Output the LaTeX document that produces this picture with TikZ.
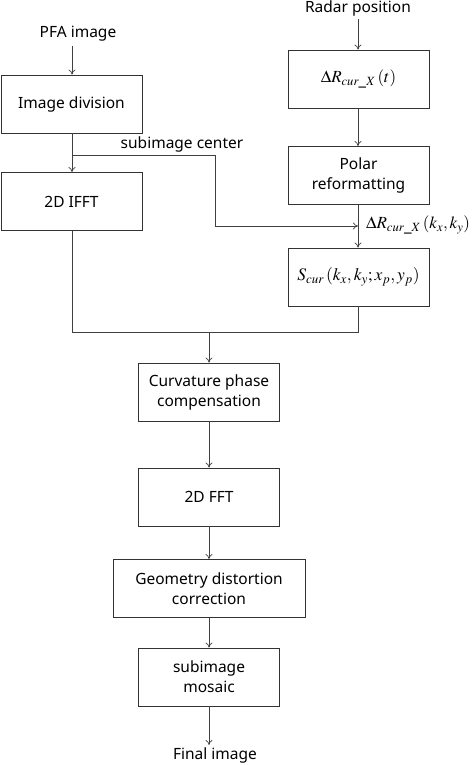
\documentclass[tikz,border=0pt]{standalone}
\usepackage{mathptmx}
\usepackage{fontspec}
\setmainfont{Noto Sans}
\usetikzlibrary{arrows.meta}
\tikzset{
  box/.style={draw=black!80, line width=0.9pt, minimum width=141pt, minimum height=58pt, inner sep=0pt, align=center, font=\fontsize{15.5}{20}\selectfont},
  lbl/.style={inner sep=0pt, font=\fontsize{15.5}{20}\selectfont},
  mth/.style={inner sep=0pt, font=\fontsize{17}{20}\selectfont},
  arr/.style={draw=black!75, line width=0.7pt, -{To[length=5pt,width=7pt]}},
  ln/.style={draw=black!75, line width=0.7pt}
}
\begin{document}
\begin{tikzpicture}[x=1pt,y=-1pt]
\useasboundingbox (0,0) rectangle (474,765);
% left column
\node[lbl] (pfa) at (78,34) {PFA image};
\coordinate (pfaout) at (72,46);
\node[box] (div) at (71.5,104) {Image division};
\node[box] (ifft) at (71.5,201.5) {2D IFFT};
\node[lbl] (sub) at (182,144) {subimage center};
% right column
\node[lbl] (radar) at (358,8) {Radar position};
\coordinate (radarout) at (358,19);
\node[box, font=\fontsize{17}{20}\selectfont] (dr) at (358.5,79) {$\Delta R_{cur\_X}\left(t\right)$};
\node[box] (polar) at (358.5,175.5) {Polar\\reformatting};
\node[box, font=\fontsize{17.5}{20}\selectfont] (s) at (358.5,277) {$S_{cur}\left(k_x,k_y;x_p,y_p\right)$};
\node[mth, anchor=west] (drk) at (366,225) {$\Delta R_{cur\_X}\left(k_x,k_y\right)$};
% center column
\node[box] (curv) at (209,392) {Curvature phase\\compensation};
\node[box] (fft) at (209,497) {2D FFT};
\node[box, minimum width=192pt] (geo) at (209,588.5) {Geometry distortion\\correction};
\node[box] (mos) at (209,677) {subimage\\mosaic};
\node[lbl] (final) at (215,755) {Final image};
% junctions
\coordinate (j1) at (72,155);
\coordinate (j1a) at (215,155);
\coordinate (j1b) at (215,226);
\coordinate (j1c) at (358,226);
\coordinate (m1) at (72,332);
\coordinate (m2) at (358,332);
\coordinate (m3) at (209,332);
\coordinate (finalin) at (209,745);
% connectors
\draw[arr] (pfaout) -- (pfaout |- div.north);
\draw[arr] (div.south -| j1) -- (ifft.north -| j1);
\draw[ln] (j1) -- (j1a) -- (j1b);
\draw[arr] (j1b) -- (j1c);
\draw[arr] (radarout) -- (radarout |- dr.north);
\draw[arr] (dr.south -| radarout) -- (polar.north -| radarout);
\draw[arr] (polar.south -| radarout) -- (s.north -| radarout);
\draw[ln] (ifft.south -| m1) -- (m1) -- (m2) -- (s.south -| m2);
\draw[arr] (m3) -- (curv.north -| m3);
\draw[arr] (curv.south -| m3) -- (fft.north -| m3);
\draw[arr] (fft.south -| m3) -- (geo.north -| m3);
\draw[arr] (geo.south -| m3) -- (mos.north -| m3);
\draw[arr] (mos.south -| m3) -- (finalin);
\end{tikzpicture}
\end{document}
